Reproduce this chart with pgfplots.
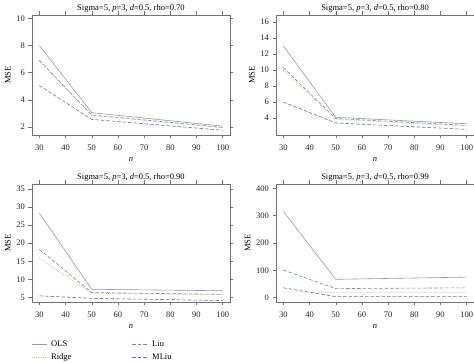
\documentclass[border=0pt]{standalone}
\usepackage{fontspec}
\setmainfont{Liberation Serif}
\usepackage{pgfplots}
\pgfplotsset{compat=1.18}
\definecolor{olsc}{rgb}{0.62,0.55,0.79}
\definecolor{ridgec}{rgb}{0.74,0.77,0.52}
\definecolor{liuc}{rgb}{0.40,0.60,0.47}
\definecolor{mliuc}{rgb}{0.40,0.43,0.72}
\definecolor{axc}{rgb}{0.45,0.45,0.45}
\tikzset{
  ols/.style={olsc, line width=0.6pt},
  ridge/.style={ridgec, line width=0.6pt, dash pattern=on 1pt off 1.2pt},
  liu/.style={liuc, line width=0.6pt, dash pattern=on 3.5pt off 2pt},
  mliu/.style={mliuc, line width=0.6pt, dash pattern=on 3.5pt off 2pt},
}
\pgfplotsset{
  panel/.style={
    scale only axis, width=198pt, height=120pt, anchor=south west,
    xmin=27.2, xmax=102.8, xtick={30,40,...,100},
    tick align=outside, major tick length=3.5pt,
    axis line style={axc}, every tick/.style={axc},
    tick label style={font=\fontsize{8.5}{9}\selectfont, text=black!85},
    /pgf/number format/assume math mode=true,
    title style={font=\fontsize{8.5}{9}\selectfont, yshift=-7pt},
    xlabel={\textit{n}}, ylabel={MSE},
    label style={font=\fontsize{8.5}{9}\selectfont},
    ylabel style={yshift=-1pt},
    xlabel style={yshift=0pt},
    yticklabel style={xshift=0pt},
    xticklabel style={yshift=-3pt},
    clip=false,
  },
}
\begin{document}
\begin{tikzpicture}
\useasboundingbox (0pt,0pt) rectangle (474pt,363pt);
% Panel 1
\begin{axis}[panel, at={(32pt,228pt)}, ymin=1.4, ymax=10.25, ytick={2,4,6,8,10},
  title={Sigma=5, \textit{p}=3, \textit{d}=0.5, rho=0.70}]
\addplot[ols] coordinates {(30,8.0) (50,3.05) (100,2.05)};
\addplot[liu] coordinates {(30,6.9) (50,2.88) (100,1.96)};
\addplot[ridge] coordinates {(30,6.85) (50,2.85) (100,1.93)};
\addplot[mliu] coordinates {(30,5.05) (50,2.55) (100,1.75)};
\end{axis}
% Panel 2
\begin{axis}[panel, at={(276pt,228pt)}, ymin=1.9, ymax=16.85, ytick={4,6,...,16},
  title={Sigma=5, \textit{p}=3, \textit{d}=0.5, rho=0.80}]
\addplot[ols] coordinates {(30,13.0) (50,4.1) (100,3.3)};
\addplot[liu] coordinates {(30,10.3) (50,3.95) (100,3.1)};
\addplot[ridge] coordinates {(30,10.0) (50,3.85) (100,3.0)};
\addplot[mliu] coordinates {(30,6.0) (50,3.4) (100,2.6)};
\end{axis}
% Panel 3
\begin{axis}[panel, at={(32pt,61pt)}, height=118pt, ymin=3.8, ymax=36.3, ytick={5,10,...,35},
  title={Sigma=5, \textit{p}=3, \textit{d}=0.5, rho=0.90}]
\addplot[ols] coordinates {(30,28.3) (50,7.3) (100,6.9)};
\addplot[liu] coordinates {(30,18.3) (50,6.4) (100,5.9)};
\addplot[ridge] coordinates {(30,15.8) (50,6.2) (100,5.75)};
\addplot[mliu] coordinates {(30,5.5) (50,4.8) (100,4.2)};
\end{axis}
% Panel 4
\begin{axis}[panel, at={(276pt,61pt)}, height=118pt, ymin=-16, ymax=416, ytick={0,100,...,400},
  title={Sigma=5, \textit{p}=3, \textit{d}=0.5, rho=0.99}]
\addplot[ols] coordinates {(30,316) (50,67) (100,75)};
\addplot[liu] coordinates {(30,101) (50,33) (100,36)};
\addplot[ridge] coordinates {(30,21) (50,19) (100,19)};
\addplot[mliu] coordinates {(30,36) (50,3.6) (100,3.6)};
\end{axis}
% Legend
\begin{scope}[font=\fontsize{8.5}{9}\selectfont]
\draw[ols] (32pt,19pt) -- (47pt,19pt); \node[anchor=west,inner sep=0pt] at (51pt,19pt) {OLS};
\draw[ridge] (32pt,6pt) -- (47pt,6pt); \node[anchor=west,inner sep=0pt] at (51pt,6pt) {Ridge};
\draw[liu] (132pt,19pt) -- (147pt,19pt); \node[anchor=west,inner sep=0pt] at (152pt,19pt) {Liu};
\draw[mliu] (132pt,6pt) -- (147pt,6pt); \node[anchor=west,inner sep=0pt] at (152pt,6pt) {MLiu};
\end{scope}
\end{tikzpicture}
\end{document}
